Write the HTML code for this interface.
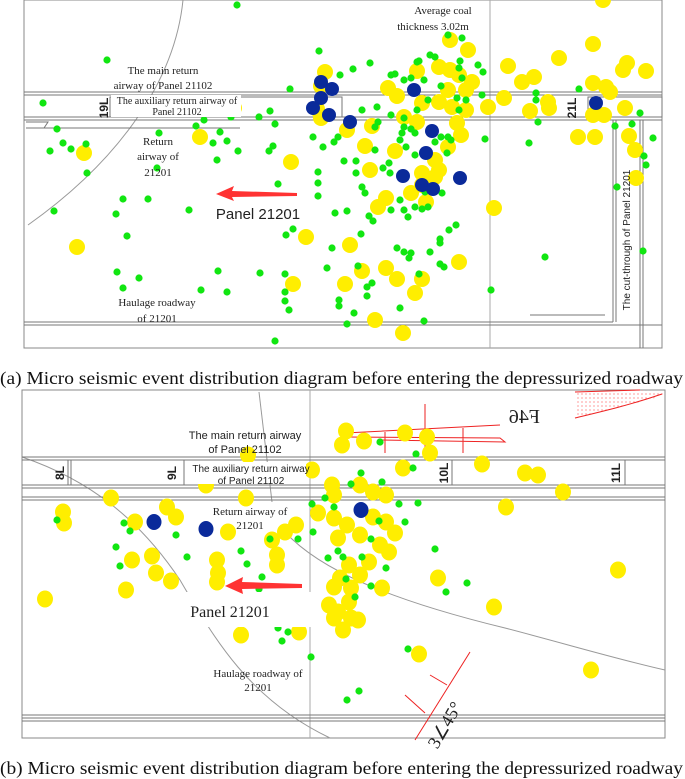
<!DOCTYPE html>
<html><head><meta charset="utf-8"><style>
body{margin:0;background:#fff;}
svg{display:block;font-family:"Liberation Serif",serif;}
</style></head><body>
<svg id="fig" width="685" height="779" viewBox="0 0 685 779">
<defs><pattern id="dots" width="4" height="4" patternUnits="userSpaceOnUse"><circle cx="2" cy="2" r="0.6" fill="#f55"/></pattern></defs>
<rect width="685" height="779" fill="#fff"/>
<g id="pa" fill="none" stroke="#777" stroke-width="1">
<rect x="24" y="0" width="638" height="348" stroke="#888"/>
<path d="M183,0 C175,80 120,160 28,225" stroke="#999"/>
<line x1="490" y1="0" x2="490" y2="348" stroke="#aaa"/>
<line x1="24" y1="92" x2="662" y2="92"/><line x1="24" y1="95" x2="662" y2="95"/>
<line x1="24" y1="117" x2="662" y2="117"/><line x1="24" y1="120" x2="662" y2="120"/>
<path d="M26,128 L240,128 M26,122 L48,122 L44,128"/>
<rect x="110" y="97" width="232" height="20"/>
<rect x="588" y="97" width="74" height="20"/>
<line x1="613" y1="120" x2="613" y2="322"/><line x1="616" y1="120" x2="616" y2="322"/>
<line x1="640" y1="120" x2="640" y2="348"/><line x1="643" y1="120" x2="643" y2="348"/>
<line x1="24" y1="322" x2="613" y2="322"/><line x1="24" y1="325" x2="662" y2="325"/>
<line x1="530" y1="315" x2="605" y2="315"/>
</g>
<g id="pb" fill="none" stroke="#777" stroke-width="1">
<rect x="22" y="390" width="643" height="348" stroke="#888"/>
<line x1="310" y1="390" x2="310" y2="738" stroke="#aaa"/>
<path d="M259,392 L272,502" stroke="#999"/>
<path d="M22,457 C90,480 140,520 180,580 C215,640 250,700 330,738" stroke="#999"/>
<path d="M285,532 C320,570 390,600 505,628 C570,645 620,660 665,670" stroke="#999"/>
<line x1="22" y1="457" x2="665" y2="457"/><line x1="22" y1="460" x2="665" y2="460"/>
<line x1="22" y1="485" x2="665" y2="485"/><line x1="22" y1="488" x2="665" y2="488"/>
<line x1="22" y1="497" x2="665" y2="497"/><line x1="22" y1="500" x2="665" y2="500"/>
<line x1="68" y1="460" x2="68" y2="485"/><line x1="71" y1="460" x2="71" y2="485"/>
<line x1="184" y1="460" x2="184" y2="485"/><line x1="452" y1="460" x2="452" y2="485"/>
<line x1="625" y1="460" x2="625" y2="485"/>
<line x1="22" y1="715" x2="665" y2="715"/><line x1="22" y1="718" x2="665" y2="718"/>
<line x1="22" y1="721" x2="665" y2="721"/>
</g>
<g stroke="#e22" fill="none" stroke-width="1">
<path d="M345,433 L500,425 M345,437 L500,438 L505,442 L380,440 M425,404 L425,450 M385,432 L385,453 M463,428 L463,453"/>
<path d="M575,392 L640,390 L663,392 L662,396 C630,405 600,412 575,418 Z" fill="url(#dots)" stroke="none"/>
<path d="M575,392 L640,390 M575,418 C600,412 630,405 662,394"/>
<path d="M470,652 L415,740 M430,675 L447,685 M405,695 L425,713" />
</g>
<text x="530" y="423" font-size="20" transform="scale(-1,1) translate(-1070,0)" fill="#222">F46</text>
<g id="points"></g>
<g font-size="11" fill="#222" text-anchor="middle">
<text x="443" y="14">Average coal</text>
<text x="433" y="30">thickness 3.02m</text>
<text x="163" y="74">The main return</text>
<text x="163" y="89">airway of Panel 21102</text>
<rect x="111" y="95" width="130" height="22" fill="#fff"/>
<text x="177" y="104" font-size="10">The auxiliary return airway of</text>
<text x="177" y="115" font-size="10">Panel 21102</text>
<text x="158" y="145">Return</text>
<text x="158" y="160">airway of</text>
<text x="158" y="176">21201</text>
<text x="157" y="306">Haulage roadway</text>
<text x="157" y="322">of 21201</text>
<text x="258" y="219" font-size="15" font-family="Liberation Sans,sans-serif">Panel 21201</text>
<text x="108" y="108" font-size="12" font-weight="bold" font-family="Liberation Sans,sans-serif" transform="rotate(-90 108 108)">19L</text>
<text x="576" y="108" font-size="12" font-weight="bold" font-family="Liberation Sans,sans-serif" transform="rotate(-90 576 108)">21L</text>
<text x="630" y="240" font-size="10" font-family="Liberation Sans,sans-serif" transform="rotate(-90 630 240)">The cut-through  of Panel 21201</text>
<text x="245" y="439" font-size="11" font-family="Liberation Sans,sans-serif">The main return airway</text>
<text x="245" y="453" font-size="11" font-family="Liberation Sans,sans-serif">of Panel 21102</text>
<rect x="186" y="462" width="120" height="22" fill="#fff"/>
<text x="251" y="472" font-size="10" font-family="Liberation Sans,sans-serif">The auxiliary return airway</text>
<text x="251" y="484" font-size="10" font-family="Liberation Sans,sans-serif">of Panel 21102</text>
<text x="250" y="515">Return airway of</text>
<text x="250" y="529">21201</text>
<rect x="180" y="592" width="140" height="35" fill="#fff"/>
<text x="230" y="617" font-size="16">Panel 21201</text>
<text x="258" y="677">Haulage roadway of</text>
<text x="258" y="691">21201</text>
<text x="64" y="473" font-size="12" font-weight="bold" font-family="Liberation Sans,sans-serif" transform="rotate(-90 64 473)">8L</text>
<text x="176" y="473" font-size="12" font-weight="bold" font-family="Liberation Sans,sans-serif" transform="rotate(-90 176 473)">9L</text>
<text x="448" y="473" font-size="12" font-weight="bold" font-family="Liberation Sans,sans-serif" transform="rotate(-90 448 473)">10L</text>
<text x="620" y="473" font-size="12" font-weight="bold" font-family="Liberation Sans,sans-serif" transform="rotate(-90 620 473)">11L</text>
<text x="450" y="728" font-size="18" transform="rotate(-60 450 728)">3∠45°</text>
</g>
<g fill="#f33">
<path d="M297,193 L232,191 L234,186 L216,194 L234,201 L232,197 L297,196 Z"/>
<path d="M302,584 L242,582 L243,577 L225,586 L243,594 L242,589 L302,588 Z"/>
</g>
<text x="0" y="384" font-size="17.5" fill="#111" textLength="683" lengthAdjust="spacingAndGlyphs">(a) Micro seismic event distribution diagram before entering the depressurized  roadway</text>
<text x="0" y="774" font-size="17.5" fill="#111" textLength="683" lengthAdjust="spacingAndGlyphs">(b) Micro seismic event distribution diagram before entering the depressurized roadway</text>
</svg>
<script>
const greenA=[[237,5],[319,51],[107,60],[370,63],[353,69],[340,75],[290,89],[43,103],[270,111],[259,117],[231,117],[204,120],[196,126],[275,124],[57,129],[159,133],[220,132],[63,143],[86,144],[50,151],[71,149],[213,143],[227,141],[238,151],[217,160],[269,151],[273,146],[87,173],[157,168],[278,184],[123,199],[148,199],[54,211],[189,210],[116,214],[127,236],[318,183],[318,196],[318,172],[313,137],[323,147],[334,142],[338,137],[344,161],[356,161],[356,173],[375,150],[362,187],[365,193],[347,211],[335,213],[369,216],[373,221],[361,234],[286,235],[293,229],[332,248],[397,248],[404,252],[411,253],[409,258],[430,252],[440,239],[440,243],[449,230],[456,225],[440,264],[444,267],[358,266],[372,283],[367,287],[367,296],[339,300],[339,306],[354,313],[347,324],[327,268],[285,274],[285,292],[285,301],[289,310],[260,273],[218,271],[201,290],[227,292],[139,278],[117,272],[123,288],[275,341],[400,308],[424,321],[419,274],[491,290],[545,257],[643,251],[617,187],[644,156],[646,165],[632,124],[653,138],[615,126],[640,113],[529,143],[538,122],[536,93],[536,100],[579,89],[485,139],[478,65],[483,72],[460,61],[462,38],[448,35],[430,55],[435,57],[419,61],[417,62],[391,75],[395,74],[404,80],[411,78],[424,80],[441,86],[462,78],[459,68],[428,100],[457,98],[466,100],[482,95],[377,107],[362,110],[391,115],[404,118],[417,110],[378,122],[375,127],[404,127],[402,133],[415,133],[411,129],[400,140],[406,147],[435,142],[441,137],[448,137],[447,153],[415,155],[389,163],[383,168],[390,173],[425,192],[442,193],[400,200],[404,210],[408,217],[391,210],[415,207],[428,207],[422,209],[451,140],[459,110]];
const yellowA=[[603,0],[450,40],[468,50],[593,44],[559,58],[508,66],[522,82],[534,77],[623,70],[627,63],[646,71],[593,83],[606,87],[610,92],[504,98],[488,107],[530,111],[548,102],[549,108],[625,108],[593,115],[604,115],[578,137],[595,137],[629,136],[635,150],[636,178],[494,208],[459,262],[325,72],[321,86],[317,109],[321,118],[347,130],[372,126],[365,146],[395,151],[388,88],[397,96],[417,71],[439,67],[450,70],[459,75],[472,82],[448,90],[466,90],[439,102],[452,107],[466,110],[422,103],[404,117],[417,122],[457,123],[461,135],[448,147],[435,160],[439,170],[422,173],[435,177],[422,185],[411,193],[426,202],[386,198],[378,207],[370,170],[291,162],[234,108],[200,137],[84,153],[77,247],[306,237],[350,245],[386,268],[362,271],[397,279],[422,279],[415,293],[345,284],[293,284],[375,320],[403,333]];
const blueA=[[321,82],[332,89],[321,98],[313,108],[329,115],[350,122],[414,90],[432,131],[426,153],[403,176],[460,178],[422,185],[433,189],[596,103]];
const greenB=[[380,442],[416,454],[413,468],[361,473],[382,482],[351,484],[325,498],[312,504],[334,507],[399,504],[418,503],[405,522],[124,523],[130,531],[176,535],[57,520],[116,547],[120,566],[187,557],[241,551],[247,564],[262,577],[259,589],[270,539],[298,539],[313,532],[328,558],[343,557],[362,557],[386,568],[346,579],[371,586],[355,597],[435,549],[446,592],[467,583],[278,628],[288,632],[282,641],[311,657],[408,649],[359,691],[347,700],[379,521],[371,539],[338,551]];
const yellowB=[[346,431],[342,445],[364,441],[405,433],[427,437],[430,453],[403,468],[482,464],[525,473],[538,475],[563,492],[506,507],[618,570],[494,607],[591,670],[419,654],[438,578],[382,588],[111,498],[63,512],[64,523],[135,522],[167,507],[176,517],[132,560],[152,556],[156,573],[171,581],[126,590],[45,599],[217,560],[218,573],[217,582],[228,532],[246,498],[206,485],[248,455],[277,555],[277,565],[272,540],[285,532],[296,525],[241,635],[299,632],[312,470],[332,485],[360,485],[373,492],[386,495],[334,495],[318,513],[334,518],[347,525],[360,535],[373,517],[386,522],[395,533],[338,538],[380,545],[389,552],[349,565],[369,562],[360,575],[340,578],[334,587],[351,588],[349,602],[338,612],[351,618],[358,620],[334,618],[343,630],[329,605]];
const blueB=[[154,522],[206,529],[361,510]];
const NS='http://www.w3.org/2000/svg';
const g=document.getElementById('points');
function draw(arr,color,rx,ry,name){
  arr.forEach(p=>{
    const c=document.createElementNS(NS,'ellipse');
    c.setAttribute('cx',p[0]);c.setAttribute('cy',p[1]);
    c.setAttribute('rx',rx);c.setAttribute('ry',ry);
    c.setAttribute('fill',color);
    
    
    g.appendChild(c);
  });
}
draw(yellowA,'#ffee00',8,8,'event-yellow');
draw(yellowB,'#ffee00',8,8.5,'event-yellow');
draw(greenA,'#11e611',3.6,3.6,'event-green');
draw(greenB,'#11e611',3.6,3.6,'event-green');
draw(blueA,'#0a2a9a',7,7,'event-blue');
draw(blueB,'#0a2a9a',7.5,8,'event-blue');
</script>
</body></html>
